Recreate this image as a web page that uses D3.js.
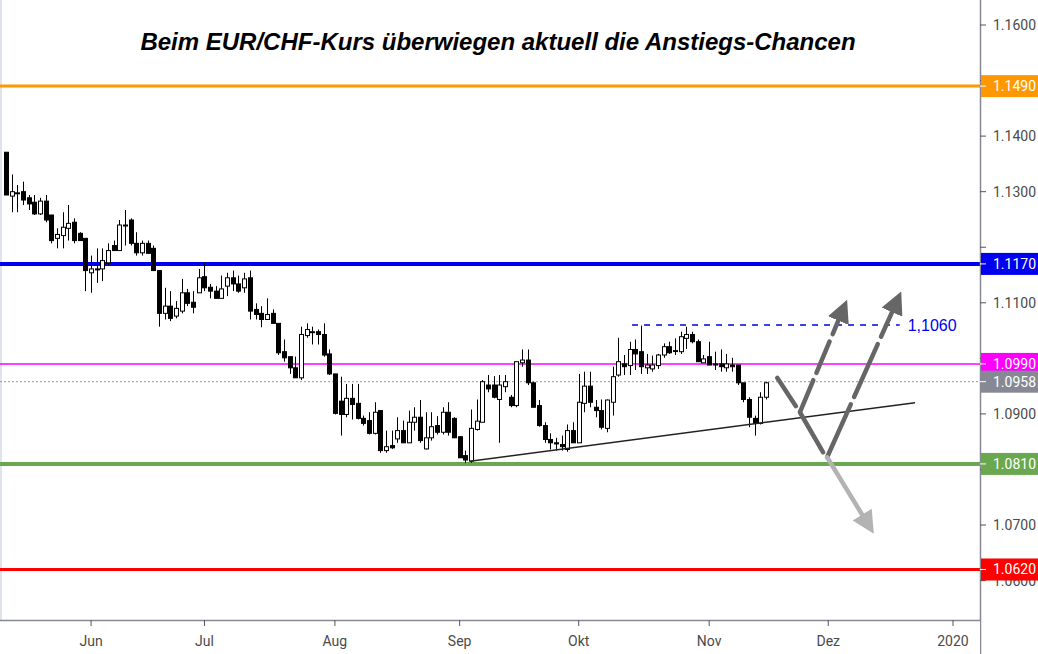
<!DOCTYPE html>
<html><head><meta charset="utf-8">
<script src="https://cdn.jsdelivr.net/npm/d3@7"></script>
<style>body{margin:0;background:#fff}svg{display:block}</style>
</head><body>
<svg id="c" width="1038" height="654"></svg>
<script>
const title = "Beim EUR/CHF-Kurs überwiegen aktuell die Anstiegs-Chancen";
// daily candles [open, high, low, close], 13 May 2019 .. 15 Nov 2019
const opens = [1.1371,1.1292,1.1298,1.1300,1.1289,1.1281,1.1260,1.1283,1.1258,1.1216,1.1221,1.1234,1.1245,1.1225,1.1216,1.1154,1.1161,1.1161,1.1172,1.1203,1.1194,1.1240,1.1249,1.1207,1.1190,1.1207,1.1198,1.1158,1.1081,1.1094,1.1076,1.1085,1.1118,1.1101,1.1118,1.1147,1.1128,1.1121,1.1108,1.1130,1.1145,1.1134,1.1127,1.1145,1.1088,1.1081,1.1070,1.1081,1.1063,1.1012,1.1003,1.0983,1.0965,1.1041,1.1048,1.1048,1.1043,1.1008,1.0972,1.0923,1.0899,1.0928,1.0919,1.0892,1.0888,1.0865,1.0906,1.0834,1.0843,1.0855,1.0870,1.0848,1.0885,1.0894,1.0837,1.0857,1.0879,1.0867,1.0903,1.0892,1.0859,1.0825,1.0815,1.0872,1.0885,1.0952,1.0952,1.0926,1.0949,1.0930,1.0915,1.0992,1.0997,1.0956,1.0915,1.0879,1.0854,1.0848,1.0845,1.0836,1.0870,1.0848,1.0919,1.0950,1.0912,1.0906,1.0874,1.0921,1.0970,1.0990,1.0987,1.1016,1.1012,1.0983,1.0981,1.0987,1.1006,1.1021,1.1014,1.1012,1.1036,1.1043,1.1030,1.0992,1.1003,1.0990,1.0990,1.0983,1.0988,1.0988,1.0956,1.0926,1.0892,1.0883,1.0930];
const highs = [1.1371,1.1331,1.1312,1.1318,1.1294,1.1294,1.1289,1.1294,1.1258,1.1234,1.1263,1.1276,1.1252,1.1227,1.1216,1.1185,1.1198,1.1198,1.1207,1.1212,1.1249,1.1267,1.1252,1.1227,1.1212,1.1212,1.1203,1.1158,1.1127,1.1121,1.1103,1.1143,1.1125,1.1121,1.1161,1.1172,1.1134,1.1130,1.1149,1.1154,1.1158,1.1149,1.1154,1.1158,1.1099,1.1094,1.1108,1.1088,1.1063,1.1034,1.1003,1.1003,1.1057,1.1063,1.1057,1.1052,1.1063,1.1016,1.0972,1.0967,1.0954,1.0954,1.0954,1.0897,1.0903,1.0921,1.0906,1.0870,1.0870,1.0894,1.0888,1.0906,1.0912,1.0925,1.0903,1.0903,1.0896,1.0912,1.0921,1.0894,1.0859,1.0834,1.0908,1.0926,1.0961,1.0970,1.0968,1.0970,1.0970,1.0934,1.0994,1.1016,1.1016,1.0958,1.0925,1.0885,1.0865,1.0857,1.0861,1.0881,1.0885,1.0972,1.0976,1.0976,1.0925,1.0926,1.0926,1.0985,1.1037,1.1006,1.1030,1.1034,1.1059,1.1008,1.1005,1.1008,1.1027,1.1030,1.1036,1.1048,1.1057,1.1048,1.1034,1.1006,1.1030,1.1012,1.1016,1.1008,1.1001,1.0988,1.0956,1.0930,1.0897,1.0939,1.0958];
const lows = [1.1294,1.1263,1.1263,1.1276,1.1267,1.1258,1.1258,1.1245,1.1207,1.1198,1.1198,1.1212,1.1207,1.1212,1.1121,1.1118,1.1136,1.1139,1.1167,1.1194,1.1194,1.1203,1.1203,1.1185,1.1185,1.1189,1.1158,1.1057,1.1070,1.1067,1.1072,1.1081,1.1094,1.1081,1.1118,1.1121,1.1108,1.1108,1.1108,1.1112,1.1121,1.1118,1.1118,1.1070,1.1070,1.1056,1.1070,1.1063,1.1006,1.0994,1.0972,1.0965,1.0961,1.1037,1.1025,1.1025,1.1003,1.0970,1.0899,1.0861,1.0894,1.0890,1.0890,1.0879,1.0863,1.0863,1.0830,1.0830,1.0837,1.0848,1.0848,1.0848,1.0870,1.0848,1.0836,1.0852,1.0863,1.0863,1.0861,1.0857,1.0821,1.0812,1.0812,1.0870,1.0885,1.0939,1.0928,1.0848,1.0939,1.0912,1.0912,1.0985,1.0952,1.0912,1.0877,1.0848,1.0836,1.0834,1.0834,1.0832,1.0848,1.0848,1.0903,1.0912,1.0894,1.0872,1.0867,1.0897,1.0967,1.0970,1.0970,1.0979,1.0972,1.0972,1.0976,1.0981,1.1001,1.1008,1.1006,1.1008,1.1017,1.1027,1.0994,1.0992,1.0988,1.0979,1.0976,1.0976,1.0976,1.0952,1.0921,1.0876,1.0861,1.0881,1.0926];
const closes = [1.1294,1.1300,1.1298,1.1285,1.1278,1.1260,1.1283,1.1249,1.1212,1.1223,1.1236,1.1243,1.1212,1.1212,1.1158,1.1161,1.1161,1.1176,1.1194,1.1194,1.1240,1.1240,1.1207,1.1190,1.1207,1.1189,1.1158,1.1081,1.1094,1.1072,1.1090,1.1118,1.1099,1.1092,1.1145,1.1127,1.1121,1.1108,1.1125,1.1145,1.1134,1.1121,1.1143,1.1085,1.1079,1.1070,1.1079,1.1063,1.1010,1.1001,1.0983,1.0965,1.1043,1.1052,1.1048,1.1043,1.1006,1.0972,1.0901,1.0899,1.0928,1.0917,1.0892,1.0883,1.0865,1.0903,1.0834,1.0841,1.0839,1.0870,1.0848,1.0885,1.0894,1.0852,1.0857,1.0877,1.0867,1.0903,1.0867,1.0857,1.0821,1.0817,1.0874,1.0887,1.0958,1.0945,1.0930,1.0952,1.0958,1.0915,1.0994,1.0997,1.0956,1.0912,1.0879,1.0854,1.0848,1.0846,1.0841,1.0870,1.0848,1.0921,1.0950,1.0921,1.0906,1.0876,1.0925,1.0967,1.0994,1.0985,1.1016,1.1008,1.0985,1.0988,1.0988,1.1006,1.1021,1.1010,1.1014,1.1039,1.1043,1.1030,1.0994,1.0999,1.0988,1.0988,1.0985,1.0990,1.0985,1.0956,1.0926,1.0894,1.0883,1.0930,1.0956];
// month ticks (bar index, label)
const monthIdx = [15,35,58,80,101,124,145,167];
const monthLabels = ["Jun","Jul","Aug","Sep","Okt","Nov","Dez","2020"];
const priceTicks = [1.16,1.15,1.14,1.13,1.12,1.11,1.10,1.09,1.08,1.07,1.06];
// horizontal levels
const levelValues = [1.149,1.117,1.099,1.081,1.062];
const levelColors = ["#ff9800","#0000ee","#ff00ff","#6aa84f","#ff0000"];
const levelWidths = [3,4,1.5,4,3];
const lastPrice = 1.0958;
const targetLevel = 1.1060, targetLabel = "1,1060", targetFrom = 110.4, targetTo = 157.6;
const trendIdx = [81.8,160.3], trendVals = [1.0815,1.0920];
// scenario arrows [barIndex, price]
const arrowA = [[136.0,1.0965],[140.0,1.0903],[147.4,1.1083]];
const arrowB = [[140.0,1.0903],[144.1,1.0831]];
const arrowC = [[144.8,1.0822],[156.9,1.1098]];
const arrowD = [[144.8,1.0822],[151.8,1.0705]];

const svg = d3.select("#c");
const W=1038, axisX=980, bottomY=620;
const x = d3.scaleLinear().domain([0,167]).range([6,953]);
const y = d3.scaleLinear().domain([1.06,1.16]).range([580.6,25]);

svg.append("rect").attr("x",0).attr("y",0).attr("width",2).attr("height",bottomY).attr("fill","#dfe3ea");

levelValues.forEach((v,i)=>{
  svg.append("line").attr("x1",0).attr("x2",axisX).attr("y1",y(v)).attr("y2",y(v))
    .attr("stroke",levelColors[i]).attr("stroke-width",levelWidths[i]);
});
svg.append("line").attr("x1",0).attr("x2",axisX).attr("y1",y(lastPrice)).attr("y2",y(lastPrice))
  .attr("stroke","#999").attr("stroke-width",1).attr("stroke-dasharray","2,2");

svg.append("line").attr("x1",x(targetFrom)).attr("x2",x(targetTo)).attr("y1",y(targetLevel)).attr("y2",y(targetLevel))
  .attr("stroke","#0000ee").attr("stroke-width",1.5).attr("stroke-dasharray","6,6");
svg.append("text").attr("x",x(targetTo)+8).attr("y",y(targetLevel)+6).text(targetLabel)
  .attr("fill","#0000ee").attr("font-family","Liberation Sans, Arial").attr("font-size",16);

const bw=4;
const g = svg.append("g");
opens.forEach((o,i)=>{
  const c=closes[i], up=c>=o, cx=Math.round(x(i))+0.5;
  g.append("line").attr("x1",cx).attr("x2",cx).attr("y1",y(highs[i])).attr("y2",y(lows[i])).attr("stroke","#000").attr("stroke-width",1);
  const top=y(Math.max(o,c)), h=Math.max(1,y(Math.min(o,c))-top);
  g.append("rect").attr("x",cx-bw/2).attr("y",top).attr("width",bw).attr("height",h)
    .attr("fill",up?"#fff":"#000").attr("stroke","#000").attr("stroke-width",1);
});

svg.append("line").attr("x1",x(trendIdx[0])).attr("x2",x(trendIdx[1])).attr("y1",y(trendVals[0])).attr("y2",y(trendVals[1]))
  .attr("stroke","#222").attr("stroke-width",1.5);

const defs=svg.append("defs");
[["ahD","#666"],["ahL","#b3b3b3"]].forEach(([id,col])=>{
  defs.append("marker").attr("id",id).attr("viewBox","0 0 10 10").attr("refX",4).attr("refY",5)
    .attr("markerWidth",5).attr("markerHeight",5).attr("orient","auto")
    .append("path").attr("d","M0,0 L10,5 L0,10 z").attr("fill",col);
});
const ln=d3.line().x(d=>x(d[0])).y(d=>y(d[1]));
function arrow(pts,col,head,dash){
  const p=svg.append("path").attr("d",ln(pts)).attr("fill","none").attr("stroke",col).attr("stroke-width",4.5)
    .attr("stroke-linecap","round").attr("stroke-linejoin","round");
  if(dash)p.attr("stroke-dasharray",dash);
  if(head)p.attr("marker-end","url(#"+head+")");
}
arrow(arrowA,"#666","ahD","34,8");
arrow(arrowB,"#666",null,null);
arrow(arrowC,"#666","ahD","58,8");
arrow(arrowD,"#b3b3b3","ahL",null);

svg.append("text").attr("x",498).attr("y",50).attr("text-anchor","middle").text(title)
  .attr("font-family","Liberation Sans, Arial").attr("font-weight","bold").attr("font-style","italic").attr("font-size",24).attr("fill","#000");

svg.append("rect").attr("x",axisX).attr("y",0).attr("width",W-axisX).attr("height",654).attr("fill","#fff");
svg.append("line").attr("x1",axisX+0.5).attr("x2",axisX+0.5).attr("y1",0).attr("y2",654).attr("stroke","#868993").attr("stroke-width",1.5);
const boxVals = levelValues.concat([lastPrice]);
const boxCols = levelColors.concat(["#868993"]);
priceTicks.forEach(t=>{
  svg.append("line").attr("x1",axisX).attr("x2",axisX+6).attr("y1",y(t)).attr("y2",y(t)).attr("stroke","#555");
  const hidden = t!==1.06 && boxVals.some(v=>Math.abs(y(v)-y(t))<18);
  if(!hidden) svg.append("text").attr("x",993).attr("y",y(t)+5).text(t.toFixed(4)).attr("fill","#4a4a4a")
    .attr("font-family","Roboto, Liberation Sans").attr("font-size",14);
});
boxVals.forEach((v,i)=>{
  svg.append("rect").attr("x",axisX+1).attr("y",y(v)-11).attr("width",W-axisX).attr("height",22).attr("fill",boxCols[i]);
  svg.append("line").attr("x1",axisX).attr("x2",axisX+6).attr("y1",y(v)).attr("y2",y(v)).attr("stroke","#fff");
  svg.append("text").attr("x",993).attr("y",y(v)+5).text(v.toFixed(4)).attr("fill","#fff")
    .attr("font-family","Roboto, Liberation Sans").attr("font-size",14);
});

svg.append("rect").attr("x",0).attr("y",bottomY).attr("width",axisX).attr("height",654-bottomY).attr("fill","#fff");
svg.append("line").attr("x1",0).attr("x2",axisX).attr("y1",bottomY+0.5).attr("y2",bottomY+0.5).attr("stroke","#868993").attr("stroke-width",1.5);
monthIdx.forEach((m,i)=>{
  svg.append("line").attr("x1",x(m)).attr("x2",x(m)).attr("y1",bottomY).attr("y2",bottomY+6).attr("stroke","#555");
  svg.append("text").attr("x",x(m)).attr("y",646).attr("text-anchor","middle").text(monthLabels[i])
    .attr("fill","#4a4a4a").attr("font-family","Roboto, Liberation Sans").attr("font-size",14);
});
</script>
</body></html>
